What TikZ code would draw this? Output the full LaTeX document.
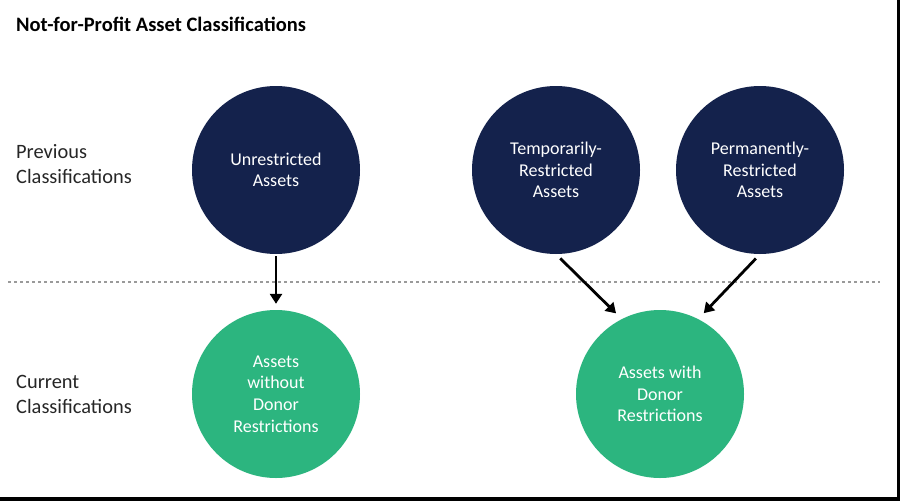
\documentclass[tikz,border=0pt]{standalone}
\usepackage{fontspec}
\setmainfont{Carlito}
\usetikzlibrary{arrows.meta}
\definecolor{navy}{HTML}{14224C}
\definecolor{mint}{HTML}{2CB57F}
\definecolor{labelgray}{HTML}{262626}
\definecolor{dotgray}{HTML}{9A9A9A}
\begin{document}
\begin{tikzpicture}[x=1pt,y=-1pt,
  oldbox/.style={circle, fill=navy, text=white, minimum size=168pt, inner sep=0pt, align=center, font=\fontsize{18}{21.5}\selectfont},
  newbox/.style={circle, fill=mint, text=white, minimum size=168pt, inner sep=0pt, align=center, font=\fontsize{18}{21.8}\selectfont},
  rowlabel/.style={anchor=west, inner sep=0pt, align=left, text=labelgray, font=\fontsize{20.4}{25}\selectfont},
  arr/.style={line width=2.8pt, -{Triangle[length=10pt,width=12pt]}}]
\fill[white] (0,0) rectangle (900,501);
\useasboundingbox (0,0) rectangle (900,501);
% frame edges
\fill[black] (896.5,0) rectangle (900,501);
\fill[black] (0,497) rectangle (900,501);
% title
\node[anchor=base west, inner sep=0pt, font=\fontsize{20.5}{24}\selectfont\bfseries] (title) at (16,31) {Not-for-Profit Asset Classifications};
% row labels
\node[rowlabel] (prev) at (16,164) {Previous\\Classifications};
\node[rowlabel] (curr) at (16,394) {Current\\Classifications};
% separator
\draw[dotgray, line width=1.8pt, dash pattern=on 3pt off 3pt] (8,282) -- (880,282);
% circles
\node[oldbox] (u) at (276,170) {Unrestricted\\Assets};
\node[oldbox] (t) at (556,170) {Temporarily-\\Restricted\\Assets};
\node[oldbox] (p) at (760,170) {Permanently-\\Restricted\\Assets};
\node[newbox] (wo) at (276,394) {Assets\\without\\Donor\\Restrictions};
\node[newbox] (w) at (660,394) {Assets with\\Donor\\Restrictions};
% arrows
\draw[arr, shorten <=2pt, shorten >=6pt] (u.south) -- (wo.north);
\draw[arr, shorten <=6pt, shorten >=8pt] (t.south) -- (w.117);
\draw[arr, shorten <=6pt, shorten >=8pt] (p.south) -- (w.63);
\end{tikzpicture}
\end{document}
